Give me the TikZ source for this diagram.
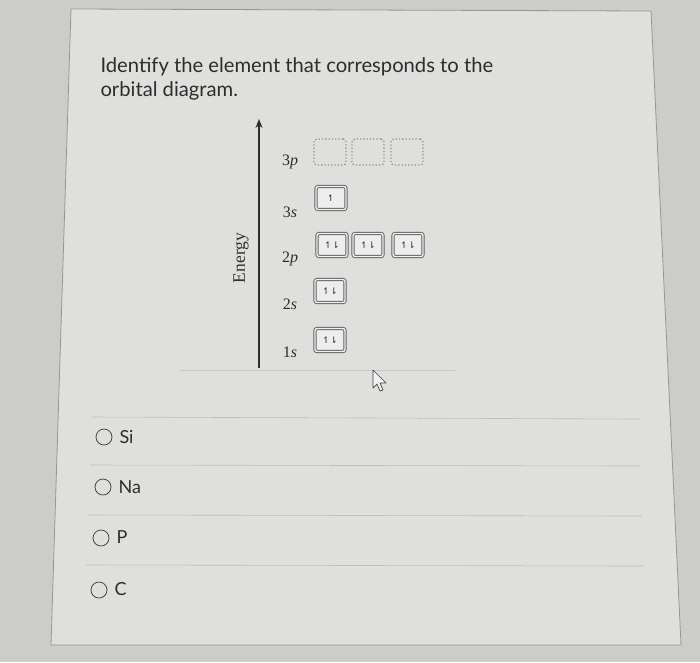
\documentclass[tikz,border=0pt]{standalone}
\usepackage{fontspec}
\setmainfont{Lato}
\newfontfamily\tnr{Liberation Serif}
\newfontfamily\symf{DejaVu Sans}
\usetikzlibrary{arrows.meta}
\definecolor{bgout}{RGB}{204,204,202}
\definecolor{panel}{RGB}{223,224,222}
\definecolor{edge}{RGB}{150,150,150}
\definecolor{sep}{RGB}{188,191,189}
\definecolor{txt}{RGB}{45,45,45}
\tikzset{
  obox/.style={draw=gray!75!black, line width=0.9pt, double=gray!10, double distance=1.4pt,
    fill=gray!14, rounded corners=2pt, minimum width=30pt, minimum height=23pt, inner sep=0pt,
    font=\symf\fontsize{9}{9}\selectfont, text=gray!25!black},
  ebox/.style={draw=gray!85, dotted, line width=1.3pt, rounded corners=3pt,
    minimum width=32pt, minimum height=26pt, inner sep=0pt},
  lvl/.style={font=\tnr\fontsize{16}{16}\selectfont, text=txt},
  opt/.style={anchor=west, font=\fontsize{18}{18}\selectfont, text=txt},
  radio/.style={draw=gray!55!black, line width=0.8pt, circle, minimum size=16pt, inner sep=0pt},
  sepline/.style={draw=sep, line width=0.6pt}
}
\begin{document}
\begin{tikzpicture}[x=1pt,y=-1pt]
\useasboundingbox (0,0) rectangle (700,662);
\fill[bgout] (0,0) rectangle (700,662);
\fill[panel, draw=edge, line width=0.8pt] (71,9) -- (651,11) -- (681,645) -- (51,645) -- cycle;

\node[anchor=base west, font=\fontsize{20.2}{24}\selectfont, text=txt, align=left] (q) at (97,96)
  {Identify the element that corresponds to the\\orbital diagram.};

% energy axis
\coordinate (eb) at (259,368);
\coordinate (et) at (259,119);
\draw[line width=1.4pt, txt, -{Stealth[length=9pt,width=7pt]}] (eb) -- (et);
\node[rotate=90, font=\tnr\fontsize{17.5}{17.5}\selectfont, text=txt] (energy) at (241,258) {Energy};

% level labels
\node[lvl] (l3p) at (290,162) {3\textit{p}};
\node[lvl] (l3s) at (290,212) {3\textit{s}};
\node[lvl] (l2p) at (290,259) {2\textit{p}};
\node[lvl] (l2s) at (290,304) {2\textit{s}};
\node[lvl] (l1s) at (290,352) {1\textit{s}};

% 3p empty
\node[ebox] (p3a) at (330,152) {};
\node[ebox] (p3b) at (368,152) {};
\node[ebox] (p3c) at (407,152) {};
% 3s
\node[obox] (s3) at (331,198) {↿};
% 2p
\node[obox] (p2a) at (332,245) {↿⇂};
\node[obox] (p2b) at (368,245) {↿⇂};
\node[obox] (p2c) at (408,245) {↿⇂};
% 2s
\node[obox] (s2) at (330,291) {↿⇂};
% 1s
\node[obox] (s1) at (330,340) {↿⇂};

% separators
\draw[sepline, draw=sep!70!panel] (180,370) -- (455,370);
\draw[sepline] (92,417) -- (640,419);
\draw[sepline] (90,465) -- (640,466);
\draw[sepline] (88,515) -- (642,516);
\draw[sepline] (86,565) -- (644,566);

% cursor
\draw[gray!50!black, line width=0.7pt, fill=white!90!gray, line join=round]
  (373,370) -- (373,388) -- (377,384) -- (380,391) -- (383,390) -- (380,383) -- (386,383) -- cycle;

% options
\node[radio] (r1) at (104,437) {};
\node[opt] (o1) at (116,437) {Si};
\node[radio] (r2) at (103,487) {};
\node[opt] (o2) at (115,487) {Na};
\node[radio] (r3) at (101,538) {};
\node[opt] (o3) at (113,537) {P};
\node[radio] (r4) at (99,590) {};
\node[opt] (o4) at (111,589) {C};
\end{tikzpicture}
\end{document}
